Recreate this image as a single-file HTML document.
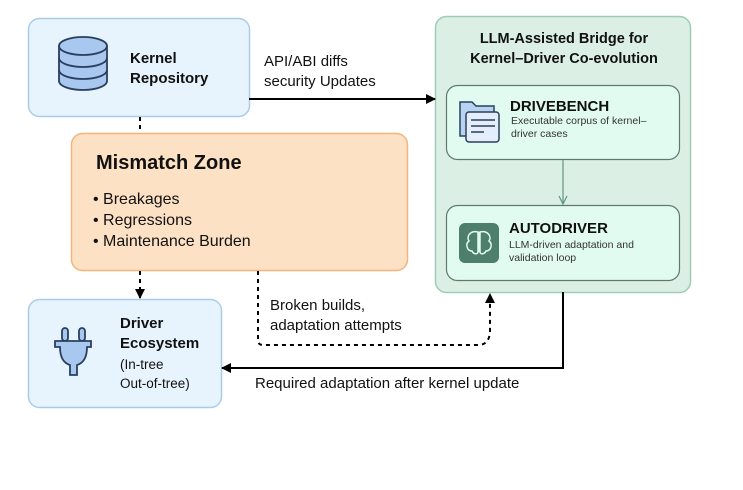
<!DOCTYPE html>
<html><head><meta charset="utf-8"><style>
body{margin:0;width:743px;height:490px;background:#fff;position:relative;font-family:"Liberation Sans",sans-serif;overflow:hidden}
.a{position:absolute;box-sizing:border-box}
.t{position:absolute;white-space:nowrap;color:#111}
</style></head><body>
<svg class="a" style="left:0;top:0" width="743" height="490">
<defs>
<marker id="ah" markerWidth="10" markerHeight="10" refX="9" refY="5" orient="auto" markerUnits="userSpaceOnUse"><path d="M0,0 L10,5 L0,10z" fill="#000"/></marker>
<marker id="gh" markerWidth="10" markerHeight="10" refX="9" refY="5" orient="auto" markerUnits="userSpaceOnUse"><path d="M1,1 L9,5 L1,9" fill="none" stroke="#5e9683" stroke-width="1.2"/></marker>
</defs>
<rect x="28.5" y="18.5" width="221" height="98" rx="11" fill="#e8f4fd" stroke="#a7cdea" stroke-width="1.5"/>
<rect x="71.5" y="133.5" width="336" height="137" rx="11" fill="#fde1c4" stroke="#f3b47e" stroke-width="1.5"/>
<rect x="28.5" y="299.5" width="193" height="108" rx="11" fill="#e8f4fd" stroke="#a7cdea" stroke-width="1.5"/>
<rect x="435.5" y="16.5" width="255" height="276" rx="11" fill="#dcefe5" stroke="#9ccdb5" stroke-width="1.5"/>
<rect x="446.5" y="85.5" width="233" height="74" rx="11" fill="#e2fbf0" stroke="#5c7b70" stroke-width="1.2"/>
<rect x="446.5" y="205.5" width="233" height="75" rx="11" fill="#e2fbf0" stroke="#5c7b70" stroke-width="1.2"/>
<line x1="563" y1="160" x2="563" y2="204" stroke="#5e9683" stroke-width="1.2" marker-end="url(#gh)"/>
<line x1="249" y1="99" x2="435" y2="99" stroke="#000" stroke-width="2" marker-end="url(#ah)"/>
<line x1="140" y1="117" x2="140" y2="133" stroke="#000" stroke-width="2" stroke-dasharray="4,4"/>
<line x1="140" y1="271" x2="140" y2="298" stroke="#000" stroke-width="2" stroke-dasharray="4,4" marker-end="url(#ah)"/>
<path d="M258,271 L258,340 Q258,345 263,345 L478,345 Q490,345 490,330 L490,294" fill="none" stroke="#000" stroke-width="2" stroke-dasharray="4,4" marker-end="url(#ah)"/>
<path d="M563,292 L563,368 L222,368" fill="none" stroke="#000" stroke-width="2" marker-end="url(#ah)"/>
<g stroke="#2a3f5e" stroke-width="1.8" fill="#a9c8ef">
<path d="M59,46 v35 a24,9 0 0 0 48,0 v-35"/>
<ellipse cx="83" cy="46" rx="24" ry="9"/>
<path d="M59,58 a24,9 0 0 0 48,0 M59,70 a24,9 0 0 0 48,0" fill="none"/>
</g>
<g stroke="#2a3f5e" stroke-width="1.8" fill="#a9c8ef">
<rect x="62" y="328" width="6" height="13" rx="3"/><rect x="79" y="328" width="6" height="13" rx="3"/>
<path d="M55,341 h36 v6 h-4 q0,15 -10,18 v10 h-7 v-10 q-10,-3 -10,-18 h-5z"/>
</g>
<g stroke="#2a3f5e" stroke-width="1.5">
<path d="M460,102 h12 l4,4 h18 v30 h-34z" fill="#b8d3f2"/>
<rect x="466" y="112" width="33" height="30" rx="3" fill="#e4eefb"/>
<path d="M471,120 h24 M471,126 h24 M471,132 h13" fill="none"/>
</g>
<rect x="459" y="223" width="40" height="40" rx="6" fill="#4e7f6c"/>
<g stroke="#e2fbf0" stroke-width="1.5" fill="none">
<path d="M478,232 c-8,-2 -12,5 -9,9 c-4,3 -2,10 3,10 c2,4 6,3 6,1z M480,232 c8,-2 12,5 9,9 c4,3 2,10 -3,10 c-2,4 -6,3 -6,1z M479,232 v20"/>
</g>
</svg>
<div class="t" style="left:130px;top:49px;font-weight:bold;font-size:15px;line-height:20px">Kernel<br>Repository</div>
<div class="t" style="left:264px;top:52px;font-size:15px;line-height:20px">API/ABI diffs<br>security Updates</div>
<div class="t" style="left:96px;top:152px;font-weight:bold;font-size:20px">Mismatch Zone</div>
<div class="t" style="left:93px;top:189px;font-size:16px;line-height:21px">• Breakages<br>• Regressions<br>• Maintenance Burden</div>
<div class="t" style="left:120px;top:314px;font-weight:bold;font-size:15px;line-height:20px">Driver<br>Ecosystem</div>
<div class="t" style="left:120px;top:355px;font-size:13.5px;line-height:19px">(In-tree<br>Out-of-tree)</div>
<div class="t" style="left:270px;top:296px;font-size:15px;line-height:20px">Broken builds,<br>adaptation attempts</div>
<div class="t" style="left:255px;top:375px;font-size:15px">Required adaptation after kernel update</div>
<div class="t" style="left:436px;width:256px;text-align:center;top:29px;font-weight:bold;font-size:14.5px;line-height:20px">LLM-Assisted Bridge for<br>Kernel–Driver Co-evolution</div>
<div class="t" style="left:510px;top:98px;font-weight:bold;font-size:15px">DRIVEBENCH</div>
<div class="t" style="left:511px;top:115px;font-size:10.5px;line-height:13px;color:#333">Executable corpus of kernel–<br>driver cases</div>
<div class="t" style="left:509px;top:220px;font-weight:bold;font-size:15px">AUTODRIVER</div>
<div class="t" style="left:509px;top:239px;font-size:10.5px;line-height:13px;color:#333">LLM-driven adaptation and<br>validation loop</div>
</body></html>
